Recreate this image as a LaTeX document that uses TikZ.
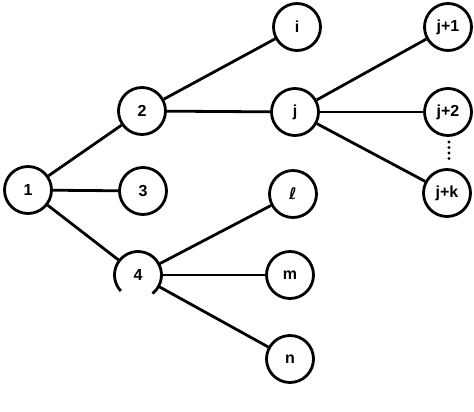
\documentclass[tikz,border=0pt]{standalone}
\usepackage{fontspec}
\setmainfont{Liberation Sans}
\newfontfamily\symfont{DejaVu Sans}
\usetikzlibrary{calc}
\begin{document}
\begin{tikzpicture}[x=1pt,y=-1pt,
  vtx/.style={circle,draw,line width=2.8pt,minimum size=47pt,inner sep=0pt,font=\fontsize{16}{16}\selectfont\bfseries},
  vtxopen/.style={circle,minimum size=47pt,inner sep=0pt,font=\fontsize{16}{16}\selectfont\bfseries},
  edge/.style={line width=2.8pt}]
\useasboundingbox (0,0) rectangle (474,412);
\node[vtx] (n1) at (28,190) {1};
\node[vtx] (n2) at (142,111) {2};
\node[vtx] (n3) at (143,191) {3};
\node[vtxopen] (n4) at (138,275) {4};
\node[vtx] (ni) at (297,27) {i};
\node[vtx] (nj) at (295,112) {j};
\node[vtx] (nl) at (293,194) {{\symfont\bfseries ℓ}};
\node[vtx] (nm) at (290,275) {m};
\node[vtx] (nn) at (290,359) {n};
\node[vtx] (j1) at (448,27) {j+1};
\node[vtx] (j2) at (448,112) {j+2};
\node[vtx] (jk) at (447,193) {j+k};
% broken circle of node 4
\draw[line width=2.8pt] ($(n4.center)+(-52:23.5pt)$) arc[start angle=-52,end angle=223,radius=23.5pt];
\foreach \yy in {142,147.5,153,158.5} \fill (449,\yy) circle (1.7pt);
\draw[edge] (n1) -- (n2);
\draw[edge] (n1) -- (n3);
\draw[edge] (n1) -- (n4);
\draw[edge] (n2) -- (ni);
\draw[edge] (n2) -- (nj);
\draw[edge] (nj) -- (j1);
\draw[edge] (nj) -- (j2);
\draw[edge] (nj) -- (jk);
\draw[edge] (n4) -- (nl);
\draw[edge] (n4) -- (nm);
\draw[edge] (n4) -- (nn);
\end{tikzpicture}
\end{document}
